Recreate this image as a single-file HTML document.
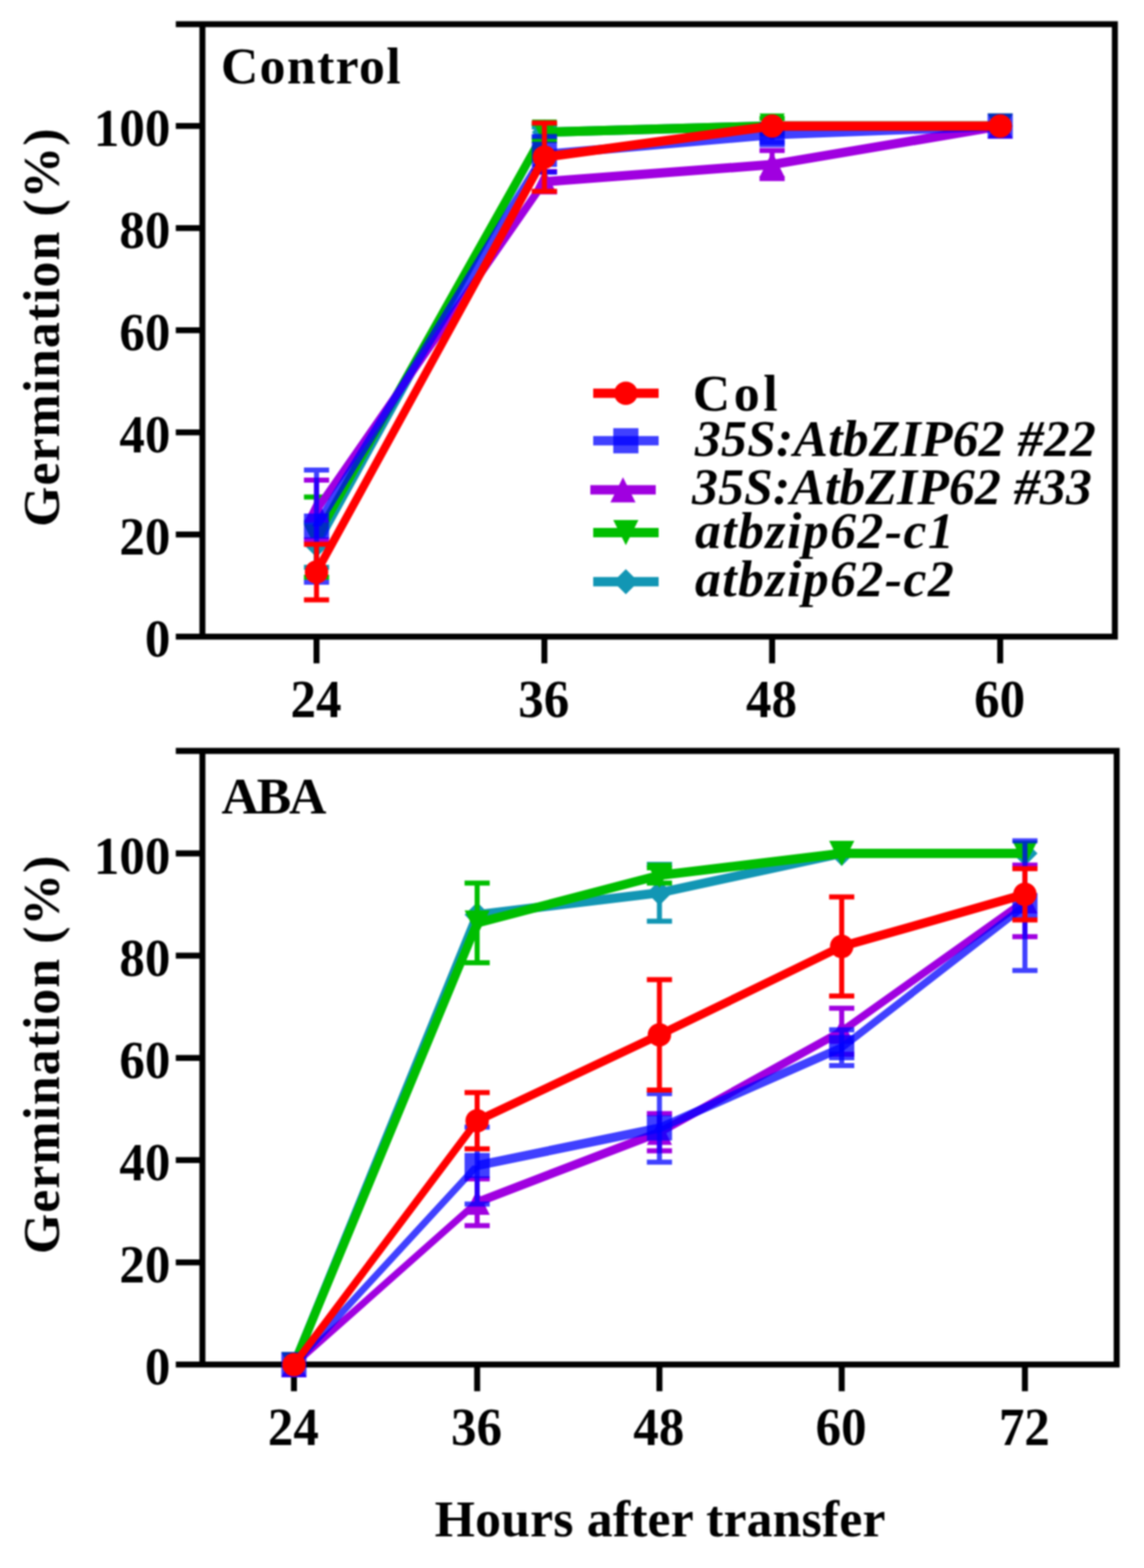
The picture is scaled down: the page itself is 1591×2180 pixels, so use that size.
<!DOCTYPE html>
<html lang="en">
<head>
<meta charset="utf-8">
<title>Germination (%) vs. Hours after transfer</title>
<style>
html,body{margin:0;padding:0;background:#fff;}
body{width:1591px;height:2180px;}
svg{display:block;}
#wrap{width:1591px;height:2180px;background:#fff;filter:blur(1px);}
text{font-family:"Liberation Serif","DejaVu Serif",serif;font-size:72px;fill:#000;}
.b{font-weight:bold;}
.bi{font-weight:bold;font-style:italic;}
</style>
</head>
<body>
<div id="wrap">
<svg width="1591" height="2180" viewBox="0 0 1591 2180">
<rect width="100%" height="100%" fill="#fff"/>
<g id="top">
<path d="M244.5 33.7H1554.65M1550.5 33.7V885.2M244.5 885.2H1554.65M281.5 33.7V885.2" stroke="#000" stroke-width="8.3" fill="none"/>
<path d="M244.5 743.2H281.5M244.5 601.2H281.5M244.5 459.2H281.5M244.5 317.2H281.5M244.5 175.2H281.5M440.2 885.2V922.2M757.1 885.2V922.2M1073.8 885.2V922.2M1391 885.2V922.2" stroke="#000" stroke-width="8.3" fill="none"/>
<text transform="translate(237 913.2) scale(0.985 1.035)" text-anchor="end" class="b">0</text>
<text transform="translate(237 771.2) scale(0.985 1.035)" text-anchor="end" class="b">20</text>
<text transform="translate(237 629.2) scale(0.985 1.035)" text-anchor="end" class="b">40</text>
<text transform="translate(237 487.2) scale(0.985 1.035)" text-anchor="end" class="b">60</text>
<text transform="translate(237 345.2) scale(0.985 1.035)" text-anchor="end" class="b">80</text>
<text transform="translate(237 203.2) scale(0.985 1.035)" text-anchor="end" class="b">100</text>
<text transform="translate(439.4 996.7) scale(0.985 1.035)" text-anchor="middle" class="b">24</text>
<text transform="translate(756.3 996.7) scale(0.985 1.035)" text-anchor="middle" class="b">36</text>
<text transform="translate(1073 996.7) scale(0.985 1.035)" text-anchor="middle" class="b">48</text>
<text transform="translate(1390.2 996.7) scale(0.985 1.035)" text-anchor="middle" class="b">60</text>
<path d="M440.2 726.16V788.64M422.7 726.16H457.7M422.7 788.64H457.7" stroke="#1296b4" stroke-width="7" fill="none"/>
<path d="M757.1 176.62V190.82M739.6 176.62H774.6M739.6 190.82H774.6" stroke="#1296b4" stroke-width="7" fill="none"/>
<path d="M433.7 757.4L750.6 183.72L763.6 183.72L446.7 757.4ZM757.1 177.22L1073.8 168.7L1073.8 181.7L757.1 190.22ZM1073.8 168.7L1391 168.7L1391 181.7L1073.8 181.7Z" fill="#1296b4"/>
<polygon points="440.2,739.9 457.7,757.4 440.2,774.9 422.7,757.4" fill="#1296b4"/>
<polygon points="757.1,166.22 774.6,183.72 757.1,201.22 739.6,183.72" fill="#1296b4"/>
<polygon points="1073.8,157.7 1091.3,175.2 1073.8,192.7 1056.3,175.2" fill="#1296b4"/>
<polygon points="1391,157.7 1408.5,175.2 1391,192.7 1373.5,175.2" fill="#1296b4"/>
<path d="M440.2 690.94V802.56M422.7 690.94H457.7M422.7 802.56H457.7" stroke="#00be00" stroke-width="7" fill="none"/>
<path d="M757.1 172.01V195.44M739.6 172.01H774.6M739.6 195.44H774.6" stroke="#00be00" stroke-width="7" fill="none"/>
<path d="M1073.8 164.55V185.85M1056.3 164.55H1091.3M1056.3 185.85H1091.3" stroke="#00be00" stroke-width="7" fill="none"/>
<path d="M433.7 746.75L750.6 183.72L763.6 183.72L446.7 746.75ZM757.1 177.22L1073.8 168.7L1073.8 181.7L757.1 190.22ZM1073.8 168.7L1391 168.7L1391 181.7L1073.8 181.7Z" fill="#00be00"/>
<polygon points="422.7,729.25 457.7,729.25 440.2,764.25" fill="#00be00"/>
<polygon points="739.6,166.22 774.6,166.22 757.1,201.22" fill="#00be00"/>
<polygon points="1056.3,157.7 1091.3,157.7 1073.8,192.7" fill="#00be00"/>
<polygon points="1373.5,157.7 1408.5,157.7 1391,192.7" fill="#00be00"/>
<path d="M440.2 667.51V750.73M422.7 667.51H457.7M422.7 750.73H457.7" stroke="#a000e0" stroke-width="7" fill="none"/>
<path d="M757.1 238.39V266.79M739.6 238.39H774.6M739.6 266.79H774.6" stroke="#a000e0" stroke-width="7" fill="none"/>
<path d="M1073.8 209.28V248.33M1056.3 209.28H1091.3M1056.3 248.33H1091.3" stroke="#a000e0" stroke-width="7" fill="none"/>
<path d="M433.7 709.12L750.6 252.59L763.6 252.59L446.7 709.12ZM757.1 246.09L1073.8 222.31L1073.8 235.31L757.1 259.09ZM1073.8 222.31L1391 168.7L1391 181.7L1073.8 235.31Z" fill="#a000e0"/>
<polygon points="440.2,691.62 457.7,726.62 422.7,726.62" fill="#a000e0"/>
<polygon points="757.1,235.09 774.6,270.09 739.6,270.09" fill="#a000e0"/>
<polygon points="1073.8,211.31 1091.3,246.31 1056.3,246.31" fill="#a000e0"/>
<polygon points="1391,157.7 1408.5,192.7 1373.5,192.7" fill="#a000e0"/>
<path d="M440.2 653.39V809.59M422.7 653.39H457.7M422.7 809.59H457.7" stroke="#0000ff" stroke-opacity="0.75" stroke-width="7" fill="none"/>
<path d="M757.1 189.76V239.46M739.6 189.76H774.6M739.6 239.46H774.6" stroke="#0000ff" stroke-opacity="0.75" stroke-width="7" fill="none"/>
<path d="M1073.8 176.62V197.92M1056.3 176.62H1091.3M1056.3 197.92H1091.3" stroke="#0000ff" stroke-opacity="0.75" stroke-width="7" fill="none"/>
<path d="M433.7 731.49L750.6 214.61L763.6 214.61L446.7 731.49ZM757.1 208.11L1073.8 180.77L1073.8 193.77L757.1 221.11ZM1073.8 180.77L1391 168.7L1391 181.7L1073.8 193.77Z" fill="#0000ff" fill-opacity="0.75"/>
<rect x="422.7" y="713.99" width="35" height="35" fill="#0000ff" fill-opacity="0.75"/>
<rect x="739.6" y="197.11" width="35" height="35" fill="#0000ff" fill-opacity="0.75"/>
<rect x="1056.3" y="169.77" width="35" height="35" fill="#0000ff" fill-opacity="0.75"/>
<rect x="1373.5" y="157.7" width="35" height="35" fill="#0000ff" fill-opacity="0.75"/>
<path d="M440.2 756.69V833.94M422.7 756.69H457.7M422.7 833.94H457.7" stroke="#ff0000" stroke-width="7" fill="none"/>
<path d="M757.1 170.94V266.08M739.6 170.94H774.6M739.6 266.08H774.6" stroke="#ff0000" stroke-width="7" fill="none"/>
<path d="M433.7 795.31L750.6 218.51L763.6 218.51L446.7 795.31ZM757.1 212.01L1073.8 168.7L1073.8 181.7L757.1 225.01ZM1073.8 168.7L1391 168.7L1391 181.7L1073.8 181.7Z" fill="#ff0000"/>
<circle cx="440.2" cy="795.31" r="16.3" fill="#ff0000"/>
<circle cx="757.1" cy="218.51" r="16.3" fill="#ff0000"/>
<circle cx="1073.8" cy="175.2" r="16.3" fill="#ff0000"/>
<circle cx="1391" cy="175.2" r="16.3" fill="#ff0000"/>
</g>
<g id="legend">
<path d="M825 546.8H916" stroke="#ff0000" stroke-width="13"/>
<circle cx="870.4" cy="546.8" r="16.3" fill="#ff0000"/>
<text transform="translate(963.5 571.3)" textLength="118" class="b">Col</text>
<path d="M825 612.8H916" stroke="#0000ff" stroke-opacity="0.75" stroke-width="13"/>
<rect x="852.9" y="595.3" width="35" height="35" fill="#0000ff" fill-opacity="0.75"/>
<text transform="translate(966.5 634.3)" textLength="557.5" class="bi">35S:AtbZIP62 #22</text>
<path d="M821 681H912" stroke="#a000e0" stroke-width="13"/>
<polygon points="866.4,663.5 883.9,698.5 848.9,698.5" fill="#a000e0"/>
<text transform="translate(962.5 700.8)" textLength="556" class="bi">35S:AtbZIP62 #33</text>
<path d="M825 740.6H916" stroke="#00be00" stroke-width="13"/>
<polygon points="852.9,723.1 887.9,723.1 870.4,758.1" fill="#00be00"/>
<text transform="translate(966.5 762)" textLength="360" class="bi">atbzip62-c1</text>
<path d="M825 808.7H916" stroke="#1296b4" stroke-width="13"/>
<polygon points="870.4,791.2 887.9,808.7 870.4,826.2 852.9,808.7" fill="#1296b4"/>
<text transform="translate(966.5 829.2)" textLength="360" class="bi">atbzip62-c2</text>
</g>
<g id="bottom">
<path d="M244.5 1044H1557.15M1553 1044V1897.2M244.5 1897.2H1557.15M281.5 1044V1897.2" stroke="#000" stroke-width="8.3" fill="none"/>
<path d="M244.5 1755.06H281.5M244.5 1612.92H281.5M244.5 1470.78H281.5M244.5 1328.64H281.5M244.5 1186.5H281.5M408.8 1897.2V1934.2M663.6 1897.2V1934.2M917.1 1897.2V1934.2M1170.6 1897.2V1934.2M1425.4 1897.2V1934.2" stroke="#000" stroke-width="8.3" fill="none"/>
<text transform="translate(237 1925.2) scale(0.985 1.035)" text-anchor="end" class="b">0</text>
<text transform="translate(237 1783.06) scale(0.985 1.035)" text-anchor="end" class="b">20</text>
<text transform="translate(237 1640.92) scale(0.985 1.035)" text-anchor="end" class="b">40</text>
<text transform="translate(237 1498.78) scale(0.985 1.035)" text-anchor="end" class="b">60</text>
<text transform="translate(237 1356.64) scale(0.985 1.035)" text-anchor="end" class="b">80</text>
<text transform="translate(237 1214.5) scale(0.985 1.035)" text-anchor="end" class="b">100</text>
<text transform="translate(408 2008.7) scale(0.985 1.035)" text-anchor="middle" class="b">24</text>
<text transform="translate(662.8 2008.7) scale(0.985 1.035)" text-anchor="middle" class="b">36</text>
<text transform="translate(916.3 2008.7) scale(0.985 1.035)" text-anchor="middle" class="b">48</text>
<text transform="translate(1169.8 2008.7) scale(0.985 1.035)" text-anchor="middle" class="b">60</text>
<text transform="translate(1424.6 2008.7) scale(0.985 1.035)" text-anchor="middle" class="b">72</text>
<path d="M917.1 1201.78V1280.67M899.6 1201.78H934.6M899.6 1280.67H934.6" stroke="#1296b4" stroke-width="7" fill="none"/>
<path d="M402.3 1897.2L657.1 1271.78L670.1 1271.78L415.3 1897.2ZM663.6 1265.28L917.1 1234.72L917.1 1247.72L663.6 1278.28ZM917.1 1234.72L1170.6 1180L1170.6 1193L917.1 1247.72ZM1170.6 1180L1425.4 1180L1425.4 1193L1170.6 1193Z" fill="#1296b4"/>
<polygon points="408.8,1879.7 426.3,1897.2 408.8,1914.7 391.3,1897.2" fill="#1296b4"/>
<polygon points="663.6,1254.28 681.1,1271.78 663.6,1289.28 646.1,1271.78" fill="#1296b4"/>
<polygon points="917.1,1223.72 934.6,1241.22 917.1,1258.72 899.6,1241.22" fill="#1296b4"/>
<polygon points="1170.6,1169 1188.1,1186.5 1170.6,1204 1153.1,1186.5" fill="#1296b4"/>
<polygon points="1425.4,1169 1442.9,1186.5 1425.4,1204 1407.9,1186.5" fill="#1296b4"/>
<path d="M663.6 1227.72V1338.59M646.1 1227.72H681.1M646.1 1338.59H681.1" stroke="#00be00" stroke-width="7" fill="none"/>
<path d="M917.1 1206.4V1227.72M899.6 1206.4H934.6M899.6 1227.72H934.6" stroke="#00be00" stroke-width="7" fill="none"/>
<path d="M402.3 1897.2L657.1 1283.16L670.1 1283.16L415.3 1897.2ZM663.6 1276.66L917.1 1210.56L917.1 1223.56L663.6 1289.66ZM917.1 1210.56L1170.6 1180L1170.6 1193L917.1 1223.56ZM1170.6 1180L1425.4 1180L1425.4 1193L1170.6 1193Z" fill="#00be00"/>
<polygon points="391.3,1879.7 426.3,1879.7 408.8,1914.7" fill="#00be00"/>
<polygon points="646.1,1265.66 681.1,1265.66 663.6,1300.66" fill="#00be00"/>
<polygon points="899.6,1199.56 934.6,1199.56 917.1,1234.56" fill="#00be00"/>
<polygon points="1153.1,1169 1188.1,1169 1170.6,1204" fill="#00be00"/>
<polygon points="1407.9,1169 1442.9,1169 1425.4,1204" fill="#00be00"/>
<path d="M663.6 1639V1703.96M646.1 1639H681.1M646.1 1703.96H681.1" stroke="#a000e0" stroke-width="7" fill="none"/>
<path d="M917.1 1548.32V1600.06M899.6 1548.32H934.6M899.6 1600.06H934.6" stroke="#a000e0" stroke-width="7" fill="none"/>
<path d="M1170.6 1401.84V1465.81M1153.1 1401.84H1188.1M1153.1 1465.81H1188.1" stroke="#a000e0" stroke-width="7" fill="none"/>
<path d="M1425.4 1202.85V1302.34M1407.9 1202.85H1442.9M1407.9 1302.34H1442.9" stroke="#a000e0" stroke-width="7" fill="none"/>
<path d="M408.8 1890.7L663.6 1664.98L663.6 1677.98L408.8 1903.7ZM663.6 1664.98L917.1 1567.69L917.1 1580.69L663.6 1677.98ZM917.1 1567.69L1170.6 1427.32L1170.6 1440.32L917.1 1580.69ZM1170.6 1427.32L1425.4 1246.1L1425.4 1259.1L1170.6 1440.32Z" fill="#a000e0"/>
<polygon points="408.8,1879.7 426.3,1914.7 391.3,1914.7" fill="#a000e0"/>
<polygon points="663.6,1653.98 681.1,1688.98 646.1,1688.98" fill="#a000e0"/>
<polygon points="917.1,1556.69 934.6,1591.69 899.6,1591.69" fill="#a000e0"/>
<polygon points="1170.6,1416.32 1188.1,1451.32 1153.1,1451.32" fill="#a000e0"/>
<polygon points="1425.4,1235.1 1442.9,1270.1 1407.9,1270.1" fill="#a000e0"/>
<path d="M663.6 1567.01V1674.04M646.1 1567.01H681.1M646.1 1674.04H681.1" stroke="#0000ff" stroke-opacity="0.75" stroke-width="7" fill="none"/>
<path d="M917.1 1520.53V1615.76M899.6 1520.53H934.6M899.6 1615.76H934.6" stroke="#0000ff" stroke-opacity="0.75" stroke-width="7" fill="none"/>
<path d="M1170.6 1431.69V1481.44M1153.1 1431.69H1188.1M1153.1 1481.44H1188.1" stroke="#0000ff" stroke-opacity="0.75" stroke-width="7" fill="none"/>
<path d="M1425.4 1169.02V1349.25M1407.9 1169.02H1442.9M1407.9 1349.25H1442.9" stroke="#0000ff" stroke-opacity="0.75" stroke-width="7" fill="none"/>
<path d="M402.3 1897.2L657.1 1620.52L670.1 1620.52L415.3 1897.2ZM663.6 1614.02L917.1 1561.65L917.1 1574.65L663.6 1627.02ZM917.1 1561.65L1170.6 1450.07L1170.6 1463.07L917.1 1574.65ZM1170.6 1450.07L1425.4 1252.63L1425.4 1265.63L1170.6 1463.07Z" fill="#0000ff" fill-opacity="0.75"/>
<rect x="391.3" y="1879.7" width="35" height="35" fill="#0000ff" fill-opacity="0.75"/>
<rect x="646.1" y="1603.02" width="35" height="35" fill="#0000ff" fill-opacity="0.75"/>
<rect x="899.6" y="1550.65" width="35" height="35" fill="#0000ff" fill-opacity="0.75"/>
<rect x="1153.1" y="1439.07" width="35" height="35" fill="#0000ff" fill-opacity="0.75"/>
<rect x="1407.9" y="1241.63" width="35" height="35" fill="#0000ff" fill-opacity="0.75"/>
<path d="M663.6 1519.11V1597.28M646.1 1519.11H681.1M646.1 1597.28H681.1" stroke="#ff0000" stroke-width="7" fill="none"/>
<path d="M917.1 1362.04V1515.55M899.6 1362.04H934.6M899.6 1515.55H934.6" stroke="#ff0000" stroke-width="7" fill="none"/>
<path d="M1170.6 1246.91V1384.79M1153.1 1246.91H1188.1M1153.1 1384.79H1188.1" stroke="#ff0000" stroke-width="7" fill="none"/>
<path d="M1425.4 1207.82V1278.89M1407.9 1207.82H1442.9M1407.9 1278.89H1442.9" stroke="#ff0000" stroke-width="7" fill="none"/>
<path d="M402.3 1897.2L657.1 1558.2L670.1 1558.2L415.3 1897.2ZM663.6 1551.7L917.1 1432.3L917.1 1445.3L663.6 1564.7ZM917.1 1432.3L1170.6 1309.35L1170.6 1322.35L917.1 1445.3ZM1170.6 1309.35L1425.4 1236.86L1425.4 1249.86L1170.6 1322.35Z" fill="#ff0000"/>
<circle cx="408.8" cy="1897.2" r="16.3" fill="#ff0000"/>
<circle cx="663.6" cy="1558.2" r="16.3" fill="#ff0000"/>
<circle cx="917.1" cy="1438.8" r="16.3" fill="#ff0000"/>
<circle cx="1170.6" cy="1315.85" r="16.3" fill="#ff0000"/>
<circle cx="1425.4" cy="1243.36" r="16.3" fill="#ff0000"/>
</g>
<text transform="translate(307.2 115.6)" textLength="250" class="b">Control</text>
<text transform="translate(308 1131)" textLength="146" class="b">ABA</text>
<text transform="translate(82 732.5) rotate(-90)" textLength="554" class="b">Germination (%)</text>
<text transform="translate(82 1743.5) rotate(-90)" textLength="554" class="b">Germination (%)</text>
<text transform="translate(604.5 2136)" textLength="627" class="b">Hours after transfer</text>
</svg>
</div>
</body>
</html>
